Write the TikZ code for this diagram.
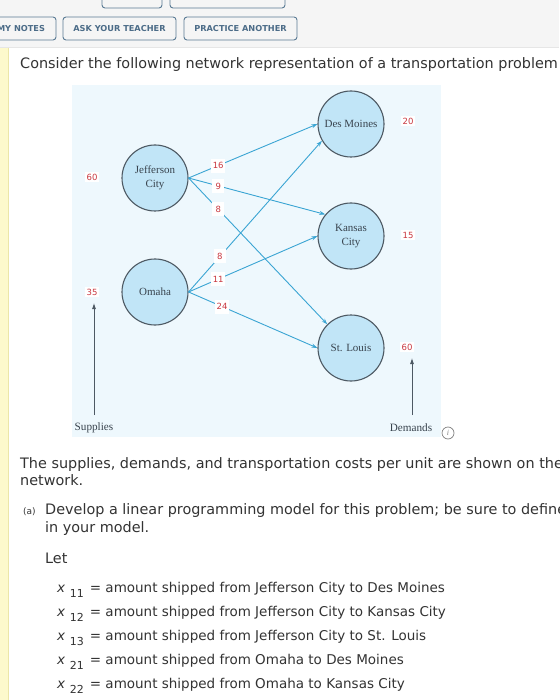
\documentclass[tikz,border=0pt]{standalone}
\usepackage{fontspec}
\setmainfont{DejaVu Sans}
\newfontfamily\seriff{Liberation Serif}
\usetikzlibrary{arrows.meta}
\definecolor{topgrey}{HTML}{F5F5F5}
\definecolor{sepc}{HTML}{E6E6E6}
\definecolor{btnborder}{HTML}{5A7A94}
\definecolor{btntext}{HTML}{4C6C88}
\definecolor{yellowbarc}{HTML}{FDF9CC}
\definecolor{yellowedgec}{HTML}{ECE6A8}
\definecolor{diagbg}{HTML}{EEF8FD}
\definecolor{nodefill}{HTML}{C1E5F7}
\definecolor{nodedraw}{HTML}{4D5963}
\definecolor{edgec}{HTML}{3AA5D3}
\definecolor{costred}{HTML}{C9373F}
\definecolor{textc}{HTML}{333333}
\definecolor{nodetext}{HTML}{38434D}
\begin{document}
\begin{tikzpicture}[x=1pt,y=-1pt,
  btn/.style={draw=btnborder, line width=0.9pt, rounded corners=3pt, text=btntext,
    font=\bfseries\fontsize{8.2}{9}\selectfont, inner sep=0pt, minimum height=23pt},
  city/.style={circle, draw=nodedraw, line width=1.1pt, fill=nodefill, minimum size=66pt,
    inner sep=0pt, align=center, text=nodetext, font=\seriff\fontsize{11}{14}\selectfont},
  edge/.style={draw=edgec, line width=0.9pt, -{Stealth[length=6pt,width=4pt]}},
  cost/.style={fill=white, text=costred, font=\fontsize{8.5}{9}\selectfont, inner sep=1.5pt,
    minimum height=14pt, minimum width=12pt},
  amount/.style={fill=white, text=costred, font=\fontsize{8.5}{9}\selectfont, inner sep=2pt},
  caption/.style={text=nodetext, font=\seriff\fontsize{11.2}{13}\selectfont, inner sep=0pt},
  txt/.style={anchor=base west, inner sep=0pt, text=textc, font=\fontsize{14.4}{17}\selectfont},
  vartxt/.style={anchor=base west, inner sep=0pt, text=textc, font=\fontsize{13.5}{16}\selectfont},
  sarrow/.style={draw=nodedraw, line width=0.8pt, -{Latex[length=6pt,width=4pt]}}
]
\useasboundingbox (0,0) rectangle (559,700);
\clip (0,0) rectangle (559,700);
\fill[white] (0,0) rectangle (559,700);
% top grey band
\fill[topgrey] (0,0) rectangle (559,47);
\draw[sepc, line width=0.8pt] (0,47) -- (559,47);
% partial boxes at very top
\draw[btnborder, line width=0.9pt, rounded corners=3pt] (102,-20) rectangle (162,8);
\draw[btnborder, line width=0.9pt, rounded corners=3pt] (170,-20) rectangle (285,8);
% buttons
\node[btn, minimum width=70pt] (mynotes) at (21,28.5) {MY NOTES};
\node[btn, minimum width=113pt] (ask) at (119.5,28.5) {ASK YOUR TEACHER};
\node[btn, minimum width=113pt] (practice) at (240.5,28.5) {PRACTICE ANOTHER};
% yellow bar
\fill[yellowbarc] (0,48) rectangle (8,700);
\draw[yellowedgec, line width=0.8pt] (8,48) -- (8,700);
% text
\node[txt] (t1) at (20,68.5) {Consider the following network representation of a transportation problem};
% diagram background
\fill[diagbg] (72,85) rectangle (441,437);
% nodes
\node[city] (jc) at (155,178) {Jefferson\\City};
\node[city] (om) at (155,292) {Omaha};
\node[city] (dm) at (351,124) {Des Moines};
\node[city] (kc) at (351,236) {Kansas\\City};
\node[city] (sl) at (351,348) {St. Louis};
% edges
\draw[edge] (jc.east) -- (dm.west) node[cost, pos=0.23] (c11) {16};
\draw[edge] (jc.east) -- (kc.140) node[cost, pos=0.218] (c12) {9};
\draw[edge] (jc.east) -- (sl.135) node[cost, pos=0.215] (c13) {8};
\draw[edge] (om.east) -- (dm.210) node[cost, pos=0.235] (c21) {8};
\draw[edge] (om.east) -- (kc.west) node[cost, pos=0.23] (c22) {11};
\draw[edge] (om.east) -- (sl.west) node[cost, pos=0.26] (c23) {24};
% supplies and demands
\node[amount] (s1) at (92,177) {60};
\node[amount] (s2) at (92,292) {35};
\node[amount] (d1) at (408,121) {20};
\node[amount] (d2) at (408,235) {15};
\node[amount] (d3) at (407,347) {60};
\node[caption] (supl) at (94,428) {Supplies};
\node[caption] (deml) at (411,428) {Demands};
\coordinate (sa0) at (94,415);
\coordinate (sa1) at (94,303);
\coordinate (da0) at (412,415);
\coordinate (da1) at (412,358);
\draw[sarrow] (sa0) -- (sa1);
\draw[sarrow] (da0) -- (da1);
\node[circle, draw=gray, line width=0.7pt, minimum size=12pt, inner sep=0pt, text=gray,
  font=\seriff\itshape\fontsize{8}{8}\selectfont] (info) at (448,433) {i};
% lower text
\node[txt] (t2) at (20,468) {The supplies, demands, and transportation costs per unit are shown on the};
\node[txt] (t3) at (20,485) {network.};
\node[txt, font=\fontsize{9}{10}\selectfont] (t4a) at (23,514) {(a)};
\node[txt] (t4) at (45,514) {Develop a linear programming model for this problem; be sure to define};
\node[txt] (t5) at (45,532) {in your model.};
\node[txt] (t6) at (45,563) {Let};
% variable lines
\node[vartxt] (v1) at (57,592) {\textit{x}\hspace{4.6pt}\raisebox{-5pt}{\fontsize{11}{12}\selectfont 11}\hspace{6pt}= amount shipped from Jefferson City to Des Moines};
\node[vartxt] (v2) at (57,616) {\textit{x}\hspace{4.6pt}\raisebox{-5pt}{\fontsize{11}{12}\selectfont 12}\hspace{6pt}= amount shipped from Jefferson City to Kansas City};
\node[vartxt] (v3) at (57,640) {\textit{x}\hspace{4.6pt}\raisebox{-5pt}{\fontsize{11}{12}\selectfont 13}\hspace{6pt}= amount shipped from Jefferson City to St. Louis};
\node[vartxt] (v4) at (57,664) {\textit{x}\hspace{4.6pt}\raisebox{-5pt}{\fontsize{11}{12}\selectfont 21}\hspace{6pt}= amount shipped from Omaha to Des Moines};
\node[vartxt] (v5) at (57,688) {\textit{x}\hspace{4.6pt}\raisebox{-5pt}{\fontsize{11}{12}\selectfont 22}\hspace{6pt}= amount shipped from Omaha to Kansas City};
\end{tikzpicture}
\end{document}
